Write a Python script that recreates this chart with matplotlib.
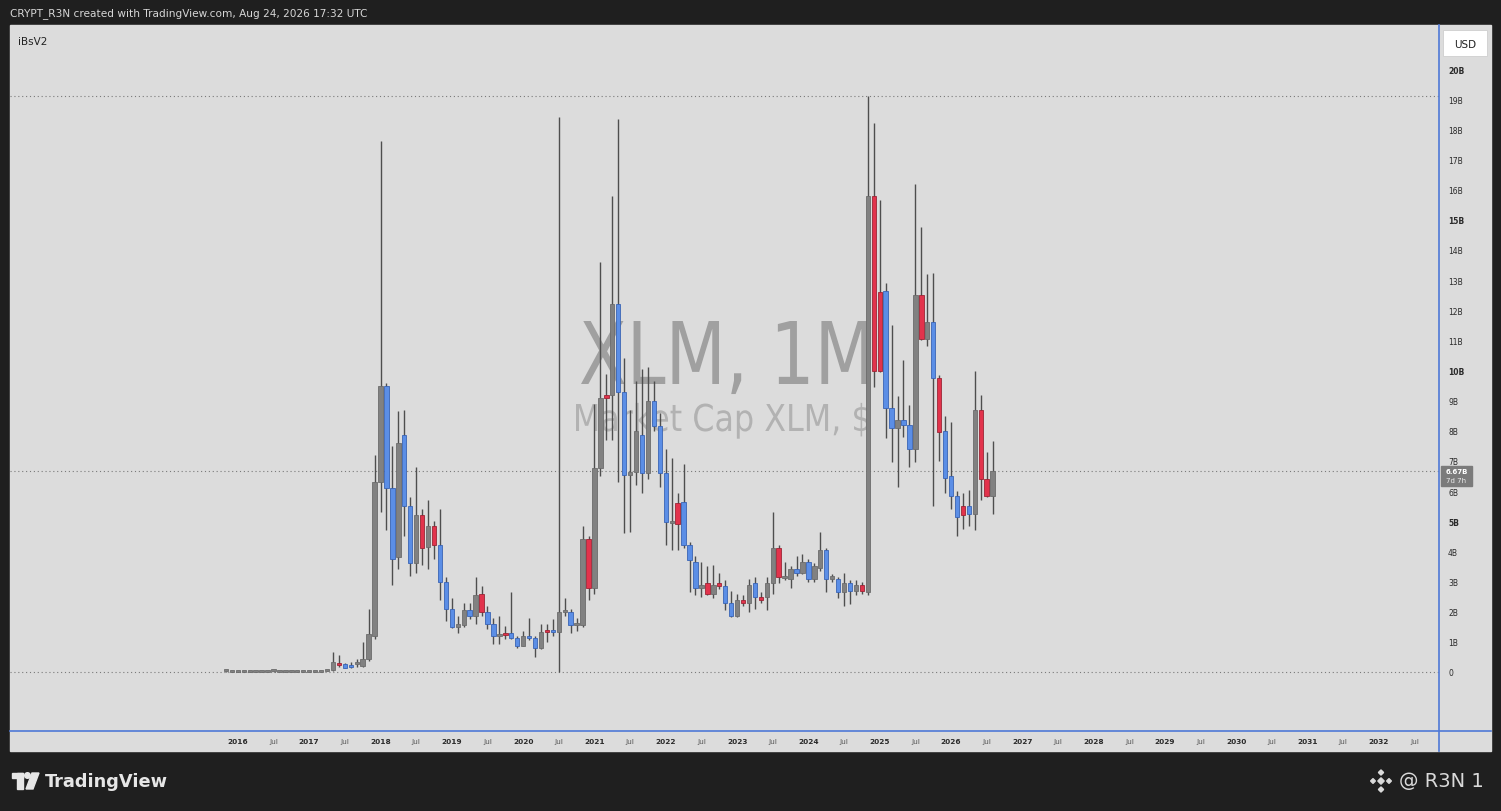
import matplotlib.pyplot as plt
import matplotlib.patches as mpatches
from matplotlib.textpath import TextPath
from matplotlib.font_manager import FontProperties
from matplotlib.transforms import Affine2D
import pandas as pd

# monthly market cap candles (billions USD), starting Nov 2015
start = '2015-11'
opens = [0.02, 0.02,
         0.01, 0.01, 0.01, 0.01, 0.01, 0.01, 0.02, 0.02, 0.01, 0.01, 0.01, 0.01,
         0.01, 0.01, 0.01, 0.03, 0.05, 0.30, 0.26, 0.24, 0.26, 0.20, 0.43, 1.20,
         6.30, 9.50, 6.10, 3.80, 7.85, 5.50, 3.60, 5.20, 4.15, 4.85, 4.20, 3.00,
         2.10, 1.50, 1.55, 2.05, 1.85, 2.60, 2.00, 1.60, 1.20, 1.28, 1.30, 1.13,
         0.87, 1.20, 1.13, 0.80, 1.40, 1.40, 1.33, 2.00, 2.00, 1.55, 1.55, 4.40,
         2.80, 6.75, 9.20, 9.20, 12.2, 9.30, 6.55, 6.65, 7.85, 6.60, 9.00, 8.15,
         6.60, 4.97, 5.60, 5.65, 4.20, 3.65, 2.80, 2.95, 2.60, 2.95, 2.85, 2.30,
         1.85, 2.40, 2.30, 2.95, 2.50, 2.50, 2.95, 4.10, 3.12, 3.10, 3.40, 3.30,
         3.65, 3.10, 3.45, 4.05, 3.10, 3.10, 2.65, 2.95, 2.70, 2.90, 2.65, 15.8,
         12.6, 12.65, 8.75, 8.10, 8.35, 8.20, 7.40, 12.5, 11.05, 11.6, 9.75, 8.00,
         6.50, 5.85, 5.50, 5.50, 5.25, 8.70, 6.40, 5.85]
highs = [0.03, 0.03,
         0.02, 0.02, 0.02, 0.02, 0.02, 0.03, 0.03, 0.03, 0.02, 0.02, 0.02, 0.02,
         0.02, 0.02, 0.04, 0.06, 0.66, 0.56, 0.30, 0.33, 0.42, 1.00, 2.10, 7.20,
         17.6, 9.60, 7.50, 8.65, 8.70, 5.80, 6.80, 5.40, 5.70, 5.00, 5.40, 3.15,
         2.45, 1.85, 2.30, 2.30, 3.15, 2.85, 2.20, 1.80, 1.85, 1.52, 2.65, 1.20,
         1.35, 1.80, 1.20, 1.60, 1.60, 1.75, 18.4, 2.45, 2.10, 1.80, 4.85, 4.50,
         8.90, 13.6, 9.90, 15.8, 18.35, 10.4, 8.70, 9.65, 10.05, 10.1, 9.65, 8.60,
         7.40, 7.10, 5.95, 6.90, 4.30, 3.85, 3.65, 3.50, 3.55, 3.30, 3.05, 2.70,
         2.60, 2.55, 3.10, 3.15, 2.65, 3.15, 5.30, 4.20, 3.65, 3.50, 3.85, 3.90,
         3.75, 3.60, 4.65, 4.10, 3.25, 3.15, 3.30, 3.05, 3.05, 3.00, 19.1, 18.2,
         15.65, 12.9, 11.5, 9.15, 10.35, 8.85, 16.2, 14.75, 13.2, 13.25, 9.85, 8.50,
         8.30, 6.00, 5.95, 6.05, 10.0, 9.20, 7.30, 7.65]
lows = [0.01, 0.01,
        0.01, 0.01, 0.01, 0.01, 0.01, 0.01, 0.01, 0.01, 0.01, 0.01, 0.01, 0.01,
        0.01, 0.01, 0.01, 0.02, 0.03, 0.17, 0.12, 0.12, 0.15, 0.18, 0.38, 1.10,
        5.30, 4.70, 2.90, 3.40, 4.50, 3.20, 3.30, 3.55, 3.40, 3.75, 2.40, 1.70,
        1.45, 1.30, 1.50, 1.75, 1.60, 1.85, 1.43, 0.93, 0.93, 1.10, 1.10, 0.80,
        0.85, 1.05, 0.50, 0.75, 1.00, 1.19, 0.00, 1.85, 1.30, 1.35, 1.50, 2.40,
        2.60, 6.50, 7.70, 7.70, 6.30, 4.60, 4.65, 6.20, 5.95, 6.40, 8.00, 6.15,
        4.20, 4.05, 4.05, 4.10, 2.65, 2.55, 2.50, 2.55, 2.45, 2.75, 2.05, 1.82,
        1.82, 2.20, 2.00, 2.10, 2.30, 2.05, 2.60, 2.95, 3.05, 2.80, 3.20, 3.25,
        3.00, 3.00, 3.35, 2.65, 3.00, 2.45, 2.20, 2.25, 2.55, 2.60, 2.55, 9.45,
        9.95, 7.75, 6.95, 6.15, 7.80, 6.80, 6.95, 11.0, 10.8, 5.50, 7.00, 5.95,
        5.40, 4.50, 4.75, 4.85, 4.70, 5.70, 5.80, 5.25]
closes = [0.02, 0.01,
          0.01, 0.01, 0.01, 0.01, 0.01, 0.02, 0.02, 0.01, 0.01, 0.01, 0.01, 0.01,
          0.01, 0.01, 0.03, 0.05, 0.33, 0.23, 0.14, 0.15, 0.29, 0.43, 1.26, 6.30,
          9.50, 6.10, 3.75, 7.60, 5.50, 3.60, 5.20, 4.10, 4.85, 4.20, 3.00, 2.10,
          1.50, 1.60, 2.05, 1.85, 2.55, 2.00, 1.60, 1.20, 1.25, 1.22, 1.13, 0.86,
          1.20, 1.13, 0.80, 1.33, 1.33, 1.33, 2.00, 2.03, 1.55, 1.60, 4.40, 2.80,
          6.75, 9.10, 9.10, 12.2, 9.30, 6.55, 6.65, 8.00, 6.60, 9.00, 8.15, 6.60,
          4.97, 4.93, 4.90, 4.20, 3.70, 2.80, 2.90, 2.60, 2.90, 2.85, 2.30, 1.85,
          2.40, 2.30, 2.90, 2.50, 2.40, 2.95, 4.10, 3.15, 3.15, 3.40, 3.30, 3.65,
          3.10, 3.50, 4.05, 3.10, 3.12, 2.65, 2.95, 2.70, 2.90, 2.70, 15.8, 10.0,
          10.0, 8.75, 8.10, 8.35, 8.20, 7.40, 12.5, 11.05, 11.6, 9.75, 7.95, 6.45,
          5.85, 5.15, 5.20, 5.25, 8.70, 6.40, 5.85, 6.67]
# indicator colouring: g = grey, b = blue, r = red
colours = ('gg' 'gggggggggggg' 'ggggg' 'rbbgggg'
           'gbbgbbgrgrbb' 'bggbgrbbgrbb' 'gbbgrbggbggr' 'ggrgbbggbgbb'
           'bgrbbbgrgrbb' 'grgbrggrggbg' 'bggbgbgbgrgr' 'rbbgbbgrgbrb'
           'bbrbgrrg')

last_price = 6.67
ath_line = 19.1
ytick_vals = list(range(0, 21))
ytick_labels = ['0'] + [f'{v}B' for v in range(1, 21)]
years = list(range(2016, 2033))

months = pd.period_range(start, periods=len(opens), freq='M')
xs = [(p.year - 2018) * 12 + p.month - 1 for p in months]

W, H = 1501, 812
fig = plt.figure(figsize=(W / 100, H / 100), dpi=100, facecolor='#1f1f1f')

# background layer in pixel coordinates
bg = fig.add_axes([0, 0, 1, 1], zorder=0)
bg.set_xlim(0, W)
bg.set_ylim(H, 0)
bg.axis('off')
bg.add_patch(mpatches.Rectangle((10, 26), 1481, 726, color='#dcdcdc'))


def squeezed_text(axis, s, left, right, baseline, cap, colour):
    # text stretched to fit a given width / cap height (narrow watermark font)
    fp = FontProperties(family='DejaVu Sans')
    p = TextPath((0, 0), s, size=100, prop=fp)
    ext = p.get_extents()
    cap_h = TextPath((0, 0), 'X', size=100, prop=fp).get_extents().y1
    sy = cap / cap_h
    sx = (right - left) / ext.width
    tr = Affine2D().translate(-ext.x0, 0).scale(sx, -sy).translate(left, baseline)
    axis.add_patch(mpatches.PathPatch(tr.transform_path(p), facecolor=colour,
                                      edgecolor='none'))


# watermark (behind the candles)
squeezed_text(bg, 'XLM, 1M', 581, 868, 385, 63, '#a0a0a0')
squeezed_text(bg, 'Market Cap XLM, $', 576, 869, 432, 27, '#b2b2b2')

# main chart
ax = fig.add_axes([10 / W, (H - 732) / H, 1429 / W, 706 / H], zorder=1)
ax.set_facecolor('none')
x0, mw = 380.5, 5.943
ax.set_xlim((10 - x0) / mw, (1439 - x0) / mw)
ax.set_ylim((673 - 732) / 30.15, (673 - 26) / 30.15)
for s in ax.spines.values():
    s.set_visible(False)

body_cols = {'g': ('#818181', '#6c6c6c'), 'b': ('#5b8ee6', '#3a64b4'), 'r': ('#e2334c', '#9c2535')}
for x, o, h, l, c, k in zip(xs, opens, highs, lows, closes, colours):
    fc, ec = body_cols[k]
    ax.vlines(x, l, h, color='#4e4e4e', lw=1.0, zorder=3)
    ax.bar(x, max(abs(c - o), 0.07), bottom=min(o, c), width=0.74, color=fc,
           edgecolor=ec, linewidth=0.6, zorder=4)

for lv in (ath_line, last_price, 0):
    ax.axhline(lv, color='#7a7a7a', lw=0.8, ls=(0, (1, 2.5)), zorder=2)

ax.yaxis.tick_right()
ax.set_yticks(ytick_vals)
ax.set_yticklabels(ytick_labels, fontsize=5.5, color='#2a2a2a')
ax.tick_params(axis='y', length=0, pad=6.5)
for t in ax.get_yticklabels():
    if t.get_text() in ('5B', '10B', '15B', '20B'):
        t.set_fontweight('bold')

xt, xl = [], []
for y in years:
    xt += [(y - 2018) * 12, (y - 2018) * 12 + 6]
    xl += [str(y), 'Jul']
ax.set_xticks(xt)
ax.set_xticklabels(xl, fontsize=5.3)
ax.tick_params(axis='x', length=0, pad=5)
for t in ax.get_xticklabels():
    if t.get_text() == 'Jul':
        t.set_color('#555555')
    else:
        t.set_color('#2a2a2a')
        t.set_fontweight('bold')

# overlay layer
ov = fig.add_axes([0, 0, 1, 1], zorder=2)
ov.set_xlim(0, W)
ov.set_ylim(H, 0)
ov.axis('off')
ov.plot([1439, 1439], [26, 752], color='#4f79d6', lw=1.2)
ov.plot([10, 1491], [732, 732], color='#4f79d6', lw=1.2)

ov.add_patch(mpatches.Rectangle((1443, 31), 44, 26, facecolor='white', edgecolor='#cfcfcf', lw=0.6))
ov.text(1465, 44.5, 'USD', fontsize=7.5, color='#222222', ha='center', va='center')

ov.add_patch(mpatches.Rectangle((1441, 467), 31, 20, color='#7b7b7b'))
ov.text(1456.5, 472.5, f'{last_price:.2f}B', fontsize=5, color='white', ha='center',
        va='center', fontweight='bold')
ov.text(1456.5, 481.5, '7d 7h', fontsize=5, color='#ececec', ha='center', va='center')

ov.text(18, 42, 'iBsV2', fontsize=7.5, color='#222222', ha='left', va='center')
ov.text(10, 14, 'CRYPT_R3N created with TradingView.com, Aug 24, 2026 17:32 UTC',
        fontsize=7.6, color='#d6d6d6', ha='left', va='center')

# footer: TradingView logo
lc = '#e6e6e6'
ov.add_patch(mpatches.Rectangle((12, 774), 11, 5, color=lc))
ov.add_patch(mpatches.Rectangle((17, 774), 6, 16, color=lc))
ov.add_patch(mpatches.Circle((27.5, 776.5), 2.8, color=lc))
ov.add_patch(mpatches.Polygon([(32, 774), (39, 774), (33, 790), (26, 790)], color=lc))
ov.text(45, 782, 'TradingView', fontsize=12.8, color=lc, fontweight='bold',
        ha='left', va='center')

# footer: right signature with diamond icon
cx, cy = 1381, 782
for dx, dy, r in [(0, 0, 3.2), (0, -8.5, 2.6), (0, 8.5, 2.6), (-8, 0, 2.4), (8, 0, 2.4)]:
    ov.add_patch(mpatches.Polygon([(cx + dx, cy + dy - r), (cx + dx + r, cy + dy),
                                   (cx + dx, cy + dy + r), (cx + dx - r, cy + dy)], color='#dadada'))
ov.text(1399, 782, '@ R3N 1', fontsize=14, color='#dadada', ha='left', va='center')

fig.savefig('out.png', dpi=100, facecolor=fig.get_facecolor())
